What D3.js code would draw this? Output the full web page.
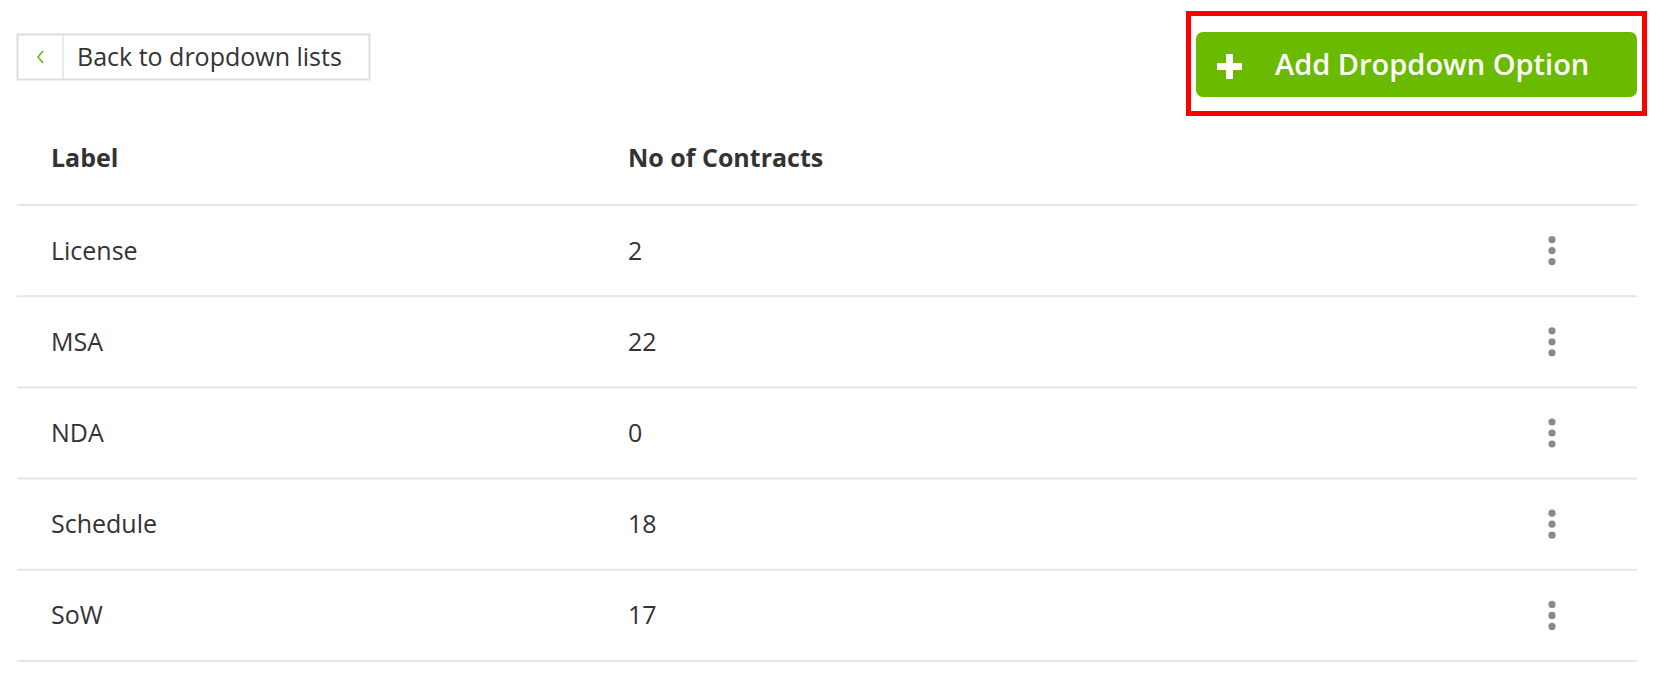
<!DOCTYPE html>
<html><head><meta charset="utf-8">
<script src="https://cdn.jsdelivr.net/npm/d3@7"></script>
<style>body{margin:0;background:#fff;font-family:"Open Sans",sans-serif;}</style>
</head><body><svg id="c" width="1660" height="680"></svg>
<script>
const labels = ["License","MSA","NDA","Schedule","SoW"];
const contracts = [2,22,0,18,17];
const headers = ["Label","No of Contracts"];

const svg = d3.select("#c");
const W = 1660;
const y = d3.scaleBand().domain(labels).range([205,661]);
const x = d3.scaleOrdinal().domain(["label","count","menu"]).range([51,628,1552]);

// back button
const bb = svg.append("g");
bb.append("rect").attr("x",17.5).attr("y",34.5).attr("width",352).attr("height",45).attr("fill","#fff").attr("stroke","#ddd").attr("stroke-width",2);
bb.append("line").attr("x1",63).attr("x2",63).attr("y1",35).attr("y2",79).attr("stroke","#e3e3e3").attr("stroke-width",1.5);
bb.append("path").attr("d","M43,51 L38,57 L43,63").attr("fill","none").attr("stroke","#6ab900").attr("stroke-width",1.6);
bb.append("text").attr("x",77).attr("y",66).attr("font-size",25).attr("fill","#333").text("Back to dropdown lists");

// add button
svg.append("rect").attr("x",1188.5).attr("y",13.5).attr("width",456).attr("height",100).attr("fill","#fff").attr("stroke","#f00").attr("stroke-width",5);
svg.append("rect").attr("x",1196).attr("y",32).attr("width",441).attr("height",65).attr("rx",7).attr("fill","#6aba00");
svg.append("path").attr("d","M1226,54 h7 v9 h9 v7 h-9 v9 h-7 v-9 h-9 v-7 h9 z").attr("fill","#fff");
svg.append("text").attr("x",1275).attr("y",75).attr("font-size",29).attr("font-weight",600).attr("fill","#fff").text("Add Dropdown Option");

// headers
svg.selectAll(".hd").data(headers).join("text").attr("class","hd")
  .attr("x",(d,i)=>x(i?"count":"label")).attr("y",167).attr("font-size",25).attr("font-weight",700).attr("fill","#333").text(d=>d);

// lines
const lineYs = [205, ...labels.map(l=>y(l)+y.bandwidth())];
svg.selectAll(".ln").data(lineYs).join("line").attr("class","ln")
  .attr("x1",17).attr("x2",1637).attr("y1",d=>d).attr("y2",d=>d).attr("stroke","#e6e6e6").attr("stroke-width",2);

const rows = svg.selectAll(".row").data(labels).join("g").attr("class","row")
  .attr("transform",d=>`translate(0,${y(d)+y.bandwidth()/2})`);
rows.append("text").attr("x",x("label")).attr("y",9).attr("font-size",25).attr("fill","#333").text(d=>d);
rows.append("text").attr("x",x("count")).attr("y",9).attr("font-size",25).attr("fill","#333").text((d,i)=>contracts[i]);
rows.each(function(){
  d3.select(this).selectAll("circle").data([-11,0,11]).join("circle")
    .attr("cx",x("menu")).attr("cy",d=>d).attr("r",3.6).attr("fill","#8a8a8a");
});
</script></body></html>
